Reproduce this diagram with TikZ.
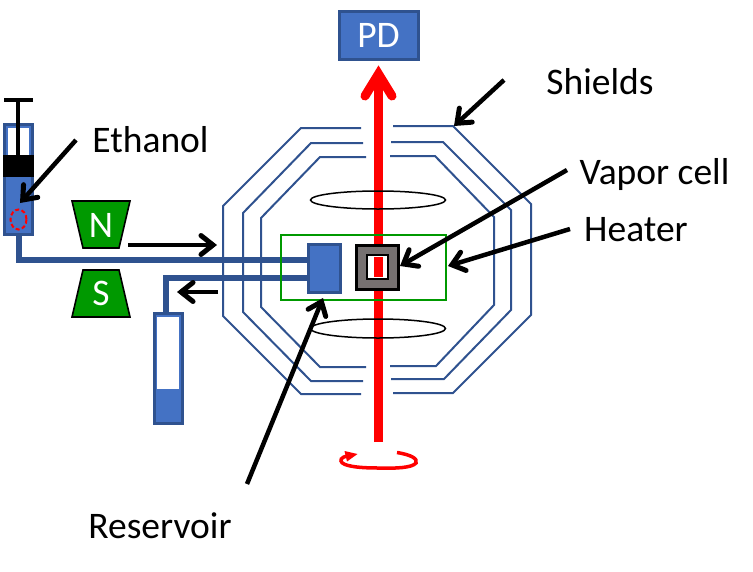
\documentclass[tikz,border=0pt]{standalone}
\usepackage{fontspec}
\setmainfont{Carlito}
\usetikzlibrary{arrows.meta}
\definecolor{bluefill}{HTML}{4472C4}
\definecolor{blueline}{HTML}{2F528F}
\definecolor{magnet}{HTML}{009900}
\definecolor{cellgray}{HTML}{767171}
\tikzset{
  lbl/.style={font=\fontsize{37.5}{42}\selectfont,text=black,inner sep=0pt},
  pointer/.style={draw=black,line width=4.5pt,-{Straight Barb[length=12pt,width=19pt,line width=5pt,line cap=round,line join=miter]}},
  shield/.style={draw=blueline,line width=2pt,line join=miter},
  tube/.style={draw=blueline,line width=6pt,line join=miter},
  bluebox/.style={fill=bluefill,draw=blueline,line width=3pt},
  magnetshape/.style={fill=magnet,draw=black,line width=1.6pt,line join=miter},
  coil/.style={draw=black,line width=1.5pt},
  beam/.style={draw=red,line width=9pt}
}
\begin{document}
\begin{tikzpicture}[x=1pt,y=-1pt]
\useasboundingbox (0,0) rectangle (753,571);
% tubes
\coordinate (tubeA) at (19,235);
\coordinate (tubeB) at (166,312);
\draw[tube] (tubeA) -- (19,260) -- (308,260);
\draw[tube] (tubeB) -- (166,278) -- (308,278);
% shields
\draw[shield] (361,128) -- (301,128) -- (223,206) -- (223,316) -- (301,394) -- (361,394);
\draw[shield] (363,143) -- (311,143) -- (243,213) -- (243,312) -- (311,381) -- (363,381);
\draw[shield] (366,157) -- (320,157) -- (261,218) -- (261,307) -- (320,367) -- (366,367);
\draw[shield] (393,126) -- (453,126) -- (531,204) -- (531,315) -- (453,393) -- (393,393);
\draw[shield] (391,142) -- (443,142) -- (511,210) -- (511,310) -- (444,379) -- (391,379);
\draw[shield] (390,156) -- (435,156) -- (494,217) -- (494,305) -- (436,366) -- (390,366);
% beam
\coordinate (beamEnd) at (378.5,442);
\coordinate (beamTip) at (378.5,74);
\draw[beam] (beamEnd) -- (beamTip);
\draw[beam,line cap=round,line join=miter] (365,96) -- (beamTip) -- (392,96);
% coils
\draw[coil] (378,200) ellipse [x radius=67.5,y radius=9];
\draw[coil] (378,328.5) ellipse [x radius=67.5,y radius=9.5];
% heater frame
\node[draw=magnet,line width=2pt,minimum width=165pt,minimum height=65pt,inner sep=0pt] (heater) at (363.5,267.5) {};
% reservoir
\node[bluebox,minimum width=32pt,minimum height=48pt,inner sep=0pt] (reservoir) at (324,268) {};
% vapor cell
\node[fill=cellgray,draw=black,line width=2.5pt,minimum width=42pt,minimum height=44pt,inner sep=0pt] (cell) at (377.5,267.5) {};
\node[fill=white,draw=black,line width=2.5pt,minimum width=21pt,minimum height=24pt,inner sep=0pt] (cellin) at (377.5,267) {};
\fill[red] (374,257) rectangle (383,277);
% PD
\node[bluebox,minimum width=79pt,minimum height=48pt,inner sep=0pt,text=white,font=\fontsize{37.5}{42}\selectfont] (pd) at (378.5,35.5) {PD};
% syringe
\node[bluebox,minimum width=28pt,minimum height=110pt,inner sep=0pt] (syringe) at (18.5,179) {};
\fill[white] (8,128) rectangle (29,156);
\fill[black] (3,155) rectangle (34,177);
\draw[draw=black,line width=4pt] (18,155) -- (18,100);
\draw[draw=black,line width=3.5pt] (4,100) -- (33,100);
\draw[red,line width=2pt,dash pattern=on 4pt off 2.5pt] (18.5,219.5) ellipse [x radius=8,y radius=10];
% vial
\node[bluebox,minimum width=28pt,minimum height=110pt,inner sep=0pt] (vial) at (168,368) {};
\fill[white] (157,317) rectangle (179,389);
% magnets
\draw[magnetshape] (72,201) -- (130,201) -- (119,248) -- (83,248) -- cycle;
\draw[magnetshape] (83,270) -- (119,270) -- (130,317) -- (72,317) -- cycle;
\node[text=white,font=\fontsize{37.5}{42}\selectfont,inner sep=0pt] (north) at (101,225) {N};
\node[text=white,font=\fontsize{37.5}{42}\selectfont,inner sep=0pt] (south) at (101,293) {S};
% rotation arrow
\draw[red,line width=3.5pt] (397,452.5) .. controls (412,455) and (418,459) .. (416,463) .. controls (412,468) and (395,468.5) .. (378,468) .. controls (358,468) and (342,466) .. (341,461) .. controls (340,458) and (345,456) .. (351,455);
\fill[red] (344.5,451) -- (357.5,454) -- (347,461.5) -- cycle;
% labels
\node[lbl] (ethanol) at (150.5,140) {Ethanol};
\node[lbl] (shields) at (600,82) {Shields};
\node[lbl] (vapor) at (654.5,174) {Vapor cell};
\node[lbl] (heatlbl) at (636,230) {Heater};
\node[lbl] (reslbl) at (160,526) {Reservoir};
% pointers
\coordinate (sA) at (504,80); \coordinate (sB) at (454,126);
\coordinate (eA) at (76,140); \coordinate (eB) at (20,203);
\coordinate (vA) at (567,170); \coordinate (vB) at (400,266);
\coordinate (hA) at (570,229); \coordinate (hB) at (448,266);
\coordinate (rA) at (247,484); \coordinate (rB) at (323,298);
\coordinate (nA) at (128,245); \coordinate (nB) at (217,245);
\coordinate (oA) at (218,292); \coordinate (oB) at (177,292);
\draw[pointer] (sA) -- (sB);
\draw[pointer] (eA) -- (eB);
\draw[pointer] (vA) -- (vB);
\draw[pointer] (hA) -- (hB);
\draw[pointer] (rA) -- (rB);
\draw[pointer] (nA) -- (nB);
\draw[pointer] (oA) -- (oB);
\end{tikzpicture}
\end{document}
